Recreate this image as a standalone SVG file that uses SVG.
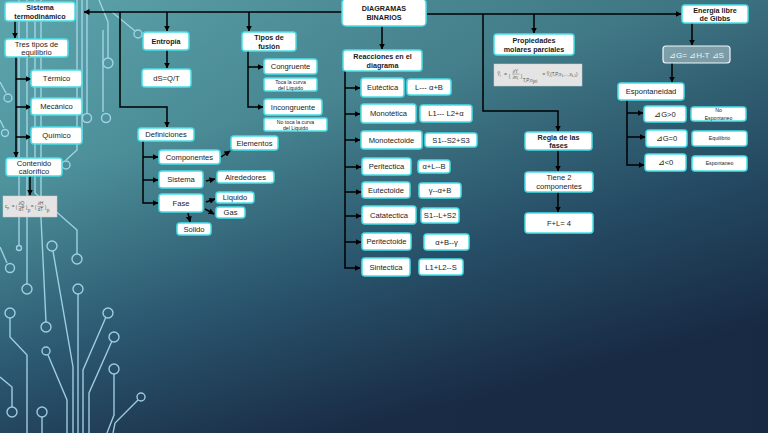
<svg xmlns="http://www.w3.org/2000/svg" width="768" height="433" viewBox="0 0 768 433">
<defs>
<linearGradient id="bg" x1="0" y1="0" x2="0.45" y2="1">
<stop offset="0" stop-color="#5ea6ad"/>
<stop offset="0.35" stop-color="#4f949d"/>
<stop offset="0.7" stop-color="#2c5a72"/>
<stop offset="1" stop-color="#1b2d47"/>
</linearGradient>
<linearGradient id="bg2" x1="0" y1="0" x2="1" y2="0">
<stop offset="0" stop-color="#10203a" stop-opacity="0"/>
<stop offset="1" stop-color="#10203a" stop-opacity="0.3"/>
</linearGradient>
<marker id="ah" markerUnits="userSpaceOnUse" markerWidth="6" markerHeight="6" refX="5.5" refY="3" orient="auto">
<path d="M0,0 L6,3 L0,6 z" fill="#000"/>
</marker>
<style>
.b{fill:#fff;stroke:#4ae0e8;stroke-width:1.5}
.f{fill:#e4e4e4;stroke:#cfcfcf;stroke-width:0.5}
text{font-family:"Liberation Sans",Arial,sans-serif;fill:#1b1b1b;text-anchor:middle}
.t{font-size:7.6px}
.tb{font-size:7.2px;font-weight:bold}
.s{font-size:5.2px}
.m{font-size:4.6px;fill:#555}
.c{fill:none;stroke:#000;stroke-width:1.5}
.ca{fill:none;stroke:#000;stroke-width:1.5;marker-end:url(#ah)}
.dec{fill:none;stroke:#a9daee;stroke-width:1.4;opacity:0.9}
</style>
</defs>
<rect width="768" height="433" fill="url(#bg)"/>
<rect width="768" height="433" fill="url(#bg2)"/>

<g id="circuit" class="dec">
<path d="M19,0 V245"/><circle cx="19" cy="248" r="2.5"/>
<path d="M27,0 V284"/><circle cx="27" cy="289" r="5"/>
<path d="M35,0 V193 L77,230 V254"/><circle cx="77" cy="259" r="5"/>
<path d="M41,0 V218 L46,322"/><circle cx="46" cy="327" r="5"/>
<path d="M0,247 L7,263"/><circle cx="10" cy="268" r="4.5"/>
<path d="M53,251 L73,367 V433"/><circle cx="52" cy="246" r="5"/>
<path d="M78,294 V433"/><circle cx="78" cy="289" r="5"/>
<path d="M10,318 V337 L27,355 V433"/><circle cx="10" cy="313" r="5"/>
<path d="M48,355 L67,400 V433"/><circle cx="46" cy="351" r="4"/>
<path d="M106,317 L83,370 V433"/><circle cx="108" cy="313" r="5"/>
<path d="M112,341 L89,393 V433"/><circle cx="114" cy="337" r="5"/>
<path d="M114,374 V415 L107,433"/><circle cx="114" cy="369" r="5"/>
<path d="M138,400 L115,423 L113,433"/><circle cx="141" cy="397" r="4"/>
<path d="M12,407 V387 L0,377"/><circle cx="12" cy="412" r="5"/>
<path d="M42,417 V433"/><circle cx="42" cy="412" r="5"/>
<path d="M77,0 V150 L66,160"/><circle cx="66" cy="165" r="4"/>
<path d="M82,0 V140"/>
<path d="M87,0 V113"/><circle cx="87" cy="118" r="4.5"/>
<path d="M99,0 L108,22 V58"/><circle cx="108" cy="63" r="5"/>
<path d="M103,30 V112"/><circle cx="106" cy="118" r="4.5"/>
<path d="M112,12 L135,31"/><circle cx="138" cy="34" r="4"/>
<path d="M0,82 L6,93"/><circle cx="8" cy="98" r="4"/>
<path d="M0,120 L4,128"/><circle cx="5" cy="133" r="3.5"/>
</g>

<g id="connectors">
<path class="ca" d="M343,12 H84"/>
<path class="ca" d="M120,12 V107 H167 V127"/>
<path class="ca" d="M167,12 V31"/>
<path class="ca" d="M249,12 V31"/>
<path class="ca" d="M167,50 V68"/>
<path class="ca" d="M248,51 V107 H263"/>
<path class="ca" d="M248,67 H263"/>
<path class="ca" d="M143,141 V203 H158"/>
<path class="ca" d="M143,157 H158"/>
<path class="ca" d="M143,180 H158"/>
<path class="ca" d="M221,157 L230,151"/>
<path class="ca" d="M206,181 L215,179"/>
<path class="ca" d="M206,202 L215,199"/>
<path class="ca" d="M205,209 L214,214"/>
<path class="ca" d="M188,213 L190,222"/>
<path class="ca" d="M382,26 V49"/>
<path class="ca" d="M345,71 V268 H360"/>
<path class="ca" d="M345,88 H360"/>
<path class="ca" d="M345,114 H360"/>
<path class="ca" d="M345,140 H360"/>
<path class="ca" d="M345,167 H361"/>
<path class="ca" d="M345,192 H361"/>
<path class="ca" d="M345,216 H361"/>
<path class="ca" d="M345,242 H361"/>
<path class="ca" d="M427,14 H681"/>
<path class="ca" d="M534,14 V33"/>
<path class="ca" d="M483,14 V111 H558 V131"/>
<path class="ca" d="M558,150 V171"/>
<path class="ca" d="M558,192 V212"/>
<path class="ca" d="M692,23 V45"/>
<path class="ca" d="M672,63 V82"/>
<path class="ca" d="M627,100 V165 H644"/>
<path class="ca" d="M627,113 H643"/>
<path class="ca" d="M627,137 H645"/>
<path class="ca" d="M15,21 V38"/>
<path class="ca" d="M16,57 V157"/>
<path class="ca" d="M16,79 H31"/>
<path class="ca" d="M16,107 H31"/>
<path class="ca" d="M16,137 H31"/>
<path class="ca" d="M30,176 V195"/>
</g>

<g id="sistema"><rect class="b" x="5" y="2" width="70" height="19" rx="3"/><text class="tb" x="40" y="10">Sistema</text><text class="tb" x="40" y="18.5">termodinámico</text></g>
<g id="tres"><rect class="b" x="5" y="39" width="63" height="18" rx="3"/><text class="t" x="36.5" y="46.5">Tres tipos de</text><text class="t" x="36.5" y="55">equilibrio</text></g>
<g id="termico"><rect class="b" x="31" y="70" width="51" height="17" rx="3"/><text class="t" x="56.5" y="81">Térmico</text></g>
<g id="mecanico"><rect class="b" x="31" y="98" width="51" height="17" rx="3"/><text class="t" x="56.5" y="109">Mecánico</text></g>
<g id="quimico"><rect class="b" x="31" y="127" width="51" height="17" rx="3"/><text class="t" x="56.5" y="138">Químico</text></g>
<g id="contenido"><rect class="b" x="6" y="158" width="56" height="18" rx="3"/><text class="t" x="34" y="165.5">Contenido</text><text class="t" x="34" y="174">calorífico</text></g>
<g id="formula-cp"><rect class="f" x="3" y="196" width="54" height="21"/>
<text class="m" x="7" y="208">c<tspan font-size="3.3" dy="1">p</tspan></text>
<text class="m" x="13" y="208">=</text>
<text class="m" x="16.5" y="209" font-size="9">(</text>
<text class="m" x="21.5" y="205">∂Q</text><path d="M18.5,206.5 H24.5" stroke="#555" stroke-width="0.4"/><text class="m" x="21.5" y="211">dT</text>
<text class="m" x="26.5" y="209" font-size="9">)</text>
<text class="m" x="29" y="212" font-size="3.3">p</text>
<text class="m" x="32" y="208">=</text>
<text class="m" x="35.5" y="209" font-size="9">(</text>
<text class="m" x="40.5" y="205">∂H</text><path d="M37.5,206.5 H43.5" stroke="#555" stroke-width="0.4"/><text class="m" x="40.5" y="211">dT</text>
<text class="m" x="45.5" y="209" font-size="9">)</text>
<text class="m" x="48" y="212" font-size="3.3">p</text>
</g>

<g id="entropia"><rect class="b" x="143" y="32" width="46" height="18" rx="3"/><text class="tb" x="166" y="43.5">Entropía</text></g>
<g id="ds"><rect class="b" x="142" y="69" width="49" height="18" rx="3"/><text class="t" x="166.5" y="80.5">dS=Q/T</text></g>
<g id="tipos"><rect class="b" x="242" y="32" width="54" height="19" rx="3"/><text class="tb" x="269" y="40">Tipos de</text><text class="tb" x="269" y="48.5">fusión</text></g>
<g id="congruente"><rect class="b" x="264" y="59" width="53" height="15" rx="3"/><text class="t" x="290.5" y="69">Congruente</text></g>
<g id="toca"><rect class="b" x="264" y="78" width="53" height="13" rx="2"/><text class="s" x="290.5" y="83.5">Toca la curva</text><text class="s" x="290.5" y="89.8">del Liquido</text></g>
<g id="incongruente"><rect class="b" x="264" y="99" width="58" height="16" rx="3"/><text class="t" x="293" y="109.5">Incongruente</text></g>
<g id="notoca"><rect class="b" x="264" y="118" width="63" height="13" rx="2"/><text class="s" x="295.5" y="123.5">No toca la curva</text><text class="s" x="295.5" y="129.8">del Liquido</text></g>
<g id="definiciones"><rect class="b" x="138" y="128" width="56" height="13" rx="3"/><text class="t" x="166" y="137.3">Definiciones</text></g>
<g id="componentes"><rect class="b" x="159" y="150" width="61" height="14" rx="3"/><text class="t" x="189.5" y="159.7">Componentes</text></g>
<g id="elementos"><rect class="b" x="231" y="136" width="47" height="14" rx="3"/><text class="t" x="254.5" y="145.5">Elementos</text></g>
<g id="sistema2"><rect class="b" x="159" y="171" width="44" height="17" rx="3"/><text class="t" x="181" y="182">Sistema</text></g>
<g id="alrededores"><rect class="b" x="217" y="171" width="57" height="12" rx="3"/><text class="t" x="245.5" y="179.7">Alrededores</text></g>
<g id="fase"><rect class="b" x="159" y="194" width="44" height="18" rx="3"/><text class="t" x="181" y="205.5">Fase</text></g>
<g id="liquido"><rect class="b" x="216" y="192" width="38" height="11" rx="3"/><text class="t" x="235" y="200.3">Liquido</text></g>
<g id="gas"><rect class="b" x="216" y="207" width="29" height="11" rx="3"/><text class="t" x="230.5" y="215.3">Gas</text></g>
<g id="solido"><rect class="b" x="177" y="223" width="34" height="12" rx="3"/><text class="t" x="194" y="231.7">Solido</text></g>

<g id="diagramas"><rect class="b" x="342" y="-1" width="84" height="27" rx="4"/><text class="tb" x="384" y="10.5" font-size="7.5">DIAGRAMAS</text><text class="tb" x="384" y="20" font-size="7.5">BINARIOS</text></g>
<g id="reacciones"><rect class="b" x="343" y="50" width="79" height="21" rx="3"/><text class="tb" x="382.5" y="59">Reacciones en el</text><text class="tb" x="382.5" y="67.5">diagrama</text></g>
<g id="eutectica"><rect class="b" x="361" y="78" width="43" height="19" rx="3"/><text class="t" x="382.5" y="90">Eutéctica</text></g>
<g id="eq1"><rect class="b" x="407" y="79" width="44" height="16" rx="3"/><text class="t" x="429" y="89.5">L--- α+B</text></g>
<g id="monotetica"><rect class="b" x="361" y="104" width="55" height="19" rx="3"/><text class="t" x="388.5" y="116">Monotética</text></g>
<g id="eq2"><rect class="b" x="420" y="105" width="52" height="17" rx="3"/><text class="t" x="446" y="116">L1--- L2+α</text></g>
<g id="monotectoide"><rect class="b" x="361" y="131" width="61" height="18" rx="3"/><text class="t" x="391.5" y="142.5">Monotectoide</text></g>
<g id="eq3"><rect class="b" x="425" y="133" width="52" height="14" rx="3"/><text class="t" x="451" y="142.5">S1--S2+S3</text></g>
<g id="peritectica"><rect class="b" x="362" y="158" width="49" height="17" rx="3"/><text class="t" x="386.5" y="169">Peritectica</text></g>
<g id="eq4"><rect class="b" x="418" y="160" width="32" height="13" rx="3"/><text class="t" x="434" y="169">α+L--B</text></g>
<g id="eutectoide"><rect class="b" x="362" y="182" width="48" height="16" rx="3"/><text class="t" x="386" y="192.6">Eutectoide</text></g>
<g id="eq5"><rect class="b" x="419" y="183" width="42" height="15" rx="3"/><text class="t" x="440" y="193">γ--α+B</text></g>
<g id="catatectica"><rect class="b" x="362" y="206" width="54" height="18" rx="3"/><text class="t" x="389" y="217.5">Catatectica</text></g>
<g id="eq6"><rect class="b" x="421" y="208" width="38" height="15" rx="3"/><text class="t" x="440" y="218">S1--L+S2</text></g>
<g id="peritectoide"><rect class="b" x="362" y="233" width="49" height="17" rx="3"/><text class="t" x="386.5" y="244">Peritectoide</text></g>
<g id="eq7"><rect class="b" x="424" y="234" width="45" height="16" rx="3"/><text class="t" x="446.5" y="244.5">α+B--γ</text></g>
<g id="sintectica"><rect class="b" x="362" y="258" width="48" height="18" rx="3"/><text class="t" x="386" y="269.5">Sintectica</text></g>
<g id="eq8"><rect class="b" x="419" y="259" width="44" height="16" rx="3"/><text class="t" x="441" y="269.5">L1+L2--S</text></g>

<g id="propiedades"><rect class="b" x="494" y="34" width="80" height="21" rx="3"/><text class="tb" x="534" y="43">Propiedades</text><text class="tb" x="534" y="51.5">molares parciales</text></g>
<g id="formula-molar"><rect class="f" x="494" y="64" width="88" height="22"/>
<text class="m" x="499" y="76">Ȳ<tspan font-size="3" dy="1">i</tspan></text>
<text class="m" x="505.5" y="76">=</text>
<text class="m" x="509.5" y="77.5" font-size="10">(</text>
<text class="m" x="515.5" y="72.5">∂Y</text><path d="M512,74 H519.5" stroke="#555" stroke-width="0.4"/><text class="m" x="515.5" y="79">∂n<tspan font-size="3" dy="0.8">i</tspan></text>
<text class="m" x="521.5" y="77.5" font-size="10">)</text>
<text class="m" x="530" y="82" font-size="3">T,P,n<tspan dy="0.8">j≠i</tspan></text>
<text class="m" x="560" y="76" font-size="4.2">= Ȳ<tspan font-size="3" dy="0.8">i</tspan><tspan dy="-0.8">(T,P,x</tspan><tspan font-size="3" dy="0.8">1</tspan><tspan dy="-0.8">,...,x</tspan><tspan font-size="3" dy="0.8">k-1</tspan><tspan dy="-0.8">)</tspan></text>
</g>
<g id="regla"><rect class="b" x="525" y="132" width="67" height="18" rx="3"/><text class="tb" x="558.5" y="139.5">Regla de las</text><text class="tb" x="558.5" y="148">fases</text></g>
<g id="tiene"><rect class="b" x="525" y="172" width="68" height="20" rx="3"/><text class="t" x="559" y="180">Tiene 2</text><text class="t" x="559" y="188.5">componentes</text></g>
<g id="fl"><rect class="b" x="525" y="213" width="68" height="20" rx="3"/><text class="t" x="559" y="225.5">F+L= 4</text></g>

<g id="gibbs"><rect class="b" x="682" y="5" width="66" height="18" rx="3"/><text class="tb" x="715" y="12.5">Energía libre</text><text class="tb" x="715" y="20.5">de Gibbs</text></g>
<g id="deltag"><rect x="663" y="46" width="67" height="17" rx="3" fill="#ffffff" fill-opacity="0.35" stroke="#eef8fa" stroke-width="1.2"/><text x="696.5" y="57.5" font-size="8" style="fill:#eef3f4">⊿G= ⊿H-T ⊿S</text></g>
<g id="espontaneidad"><rect class="b" x="618" y="83" width="66" height="17" rx="3"/><text class="t" x="651" y="94.3">Espontaneidad</text></g>
<g id="g1"><rect class="b" x="644" y="106" width="42" height="16" rx="3"/><text class="t" x="665" y="116.5">⊿G&gt;0</text></g>
<g id="g2"><rect class="b" x="646" y="130" width="41" height="17" rx="3"/><text class="t" x="666.5" y="141">⊿G=0</text></g>
<g id="g3"><rect class="b" x="645" y="154" width="41" height="17" rx="3"/><text class="t" x="665.5" y="165">⊿&lt;0</text></g>
<g id="r1"><rect class="b" x="691" y="107" width="55" height="14" rx="3"/><text class="s" x="718.5" y="112.3" font-size="4.6">No</text><text class="s" x="718.5" y="119.5" font-size="4.6">Espontaneo</text></g>
<g id="r2"><rect class="b" x="692" y="131" width="55" height="15" rx="3"/><text class="s" x="719.5" y="140.3" font-size="4.8">Equilibrio</text></g>
<g id="r3"><rect class="b" x="692" y="156" width="55" height="15" rx="3"/><text class="s" x="719.5" y="165.3" font-size="4.8">Espontaneo</text></g>
</svg>
